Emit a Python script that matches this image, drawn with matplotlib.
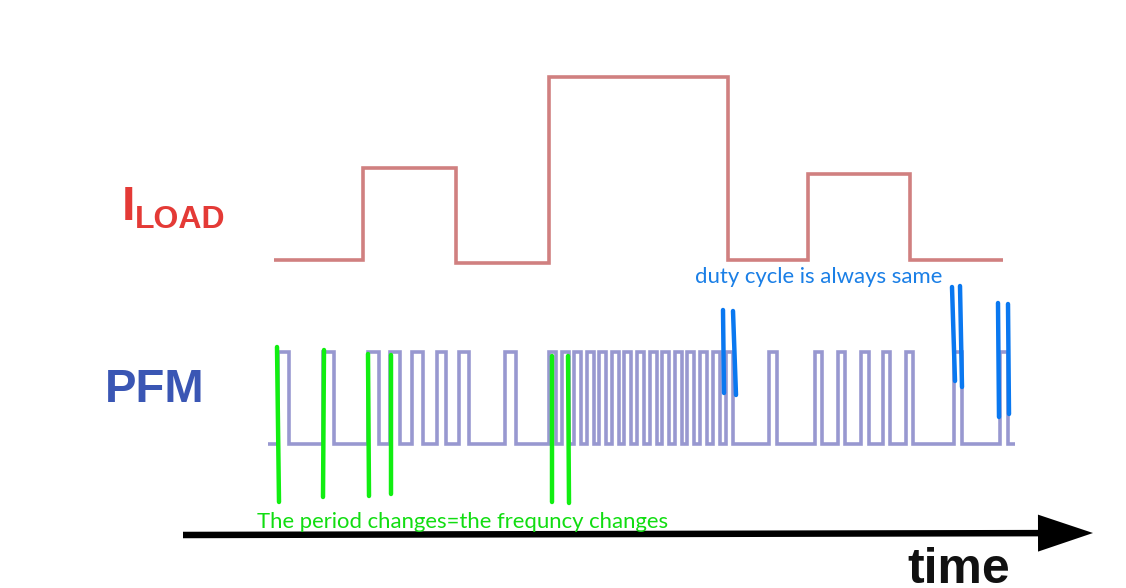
import matplotlib
matplotlib.use("Agg")
import matplotlib.pyplot as plt

# pixel-like time axis (x grows to the right, y grows down)

# I_LOAD step waveform: edges in time and the level between them
load_edges = [274, 363, 456, 549, 728, 808, 910, 1003]
load_levels = [260, 168, 263, 77, 260, 174, 260]

# PFM pulse train: rising / falling edge times
pfm_start, pfm_end = 268, 1015
pfm_low, pfm_high = 444, 352
pfm_rise = [278, 323, 368, 390, 412, 437, 459, 505,
            549, 562, 574, 587, 599, 612, 624, 637, 650, 662, 675, 687, 700, 713, 726,
            769, 815, 838, 861, 883, 906, 954, 1000]
pfm_fall = [289, 334, 379, 400, 423, 446, 469, 516,
            556, 569, 581, 594, 606, 619, 631, 644, 657, 669, 682, 694, 707, 720, 733,
            777, 822, 845, 869, 890, 913, 962, 1008]

# hand-drawn marks over the picture (x0, y0, x1, y1)
green_marks = [(277, 347, 279, 502), (324, 350, 323, 497), (368, 354, 369, 496),
               (391, 355, 391, 494), (552, 356, 552, 502), (568, 356, 569, 503)]
blue_marks = [(723, 310, 724, 393), (733, 311, 736, 395), (952, 287, 955, 381),
              (960, 286, 962, 387), (998, 303, 999, 417), (1008, 304, 1009, 414)]

W, H = 1126, 588
fig = plt.figure(figsize=(W / 100, H / 100), dpi=100)
ax = fig.add_axes([0, 0, 1, 1])
ax.set_xlim(0, W)
ax.set_ylim(H, 0)
ax.axis("off")

# load current
ax.stairs(load_levels, load_edges, baseline=None, color="#d08080", lw=2.6)

# pfm pulses
edges = [pfm_start]
levels = []
for r, f in zip(pfm_rise, pfm_fall):
    edges += [r, f]
    levels += [pfm_low, pfm_high]
edges.append(pfm_end)
levels.append(pfm_low)
ax.stairs(levels, edges, baseline=None, color="#9898d0", lw=2.6)

# labels
ax.text(122, 220, "I", color="#e43a36", fontsize=35, fontweight="bold",
        family="Liberation Sans", va="baseline", ha="left")
ax.text(135, 228, "LOAD", color="#e43a36", fontsize=23, fontweight="bold",
        family="Liberation Sans", va="baseline", ha="left")
ax.text(105, 402, "PFM", color="#3a56b4", fontsize=34, fontweight="bold",
        family="Liberation Sans", va="baseline", ha="left")

# time arrow
ax.arrow(183, 535, 910, -2, width=6.5, head_width=37, head_length=55,
         length_includes_head=True, color="black", lw=0)
ax.text(907, 583, "time", color="#111111", fontsize=36, fontweight="bold",
        family="Liberation Sans", va="baseline", ha="left")

# annotations
for x0, y0, x1, y1 in green_marks:
    ax.plot([x0, x1], [y0, y1], color="#11ee11", lw=3.2, solid_capstyle="round")
for x0, y0, x1, y1 in blue_marks:
    ax.plot([x0, x1], [y0, y1], color="#0a78f0", lw=3.2, solid_capstyle="round")

ax.text(257, 528, "The period changes=the frequncy changes", color="#11dd11",
        fontsize=15.9, family="Lato", va="baseline", ha="left")
ax.text(695, 283, "duty cycle is always same", color="#1a7fe6",
        fontsize=15.9, family="Lato", va="baseline", ha="left")

fig.savefig("out.png", dpi=100)
